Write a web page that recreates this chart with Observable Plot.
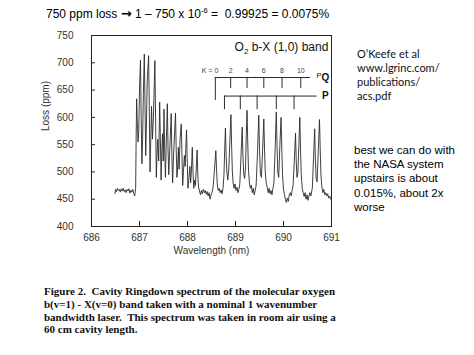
<!DOCTYPE html>
<html><head><meta charset="utf-8">
<script src="https://cdn.jsdelivr.net/npm/d3@7"></script>
<script src="https://cdn.jsdelivr.net/npm/@observablehq/plot@0.6"></script>
<style>
body{margin:0;background:#fff;}
#wrap{position:relative;width:474px;height:355px;overflow:hidden;background:#fff;font-family:"Liberation Sans",Arial,sans-serif;}
#chart{position:absolute;left:0;top:0;}
.title{position:absolute;left:46px;top:6px;font-size:12px;line-height:16px;color:#000;white-space:nowrap;}
.title sup{font-size:7.5px;vertical-align:5px;line-height:0;}
.title .arr{font-family:"DejaVu Sans",sans-serif;font-weight:bold;font-size:13px;line-height:0;}
.ref{position:absolute;left:357px;top:47px;font-family:Lato,"Open Sans",sans-serif;font-size:11px;line-height:14px;color:#111;white-space:nowrap;}
.note{position:absolute;left:354px;top:143px;font-size:11.5px;line-height:14.2px;color:#000;white-space:nowrap;}
.cap{position:absolute;left:44px;top:285px;font-family:"Liberation Serif","Times New Roman",serif;font-weight:bold;font-size:11px;line-height:12.8px;color:#111;white-space:nowrap;}
</style></head>
<body>
<div id="wrap">
<div id="chart"></div>
<div class="title">750 ppm loss <span class="arr">→</span> 1 – 750 x 10<sup>-6</sup> =&nbsp; 0.99925 = 0.0075%</div>
<div class="ref">O’Keefe et al<br>www.lgrinc.com/<br>publications/<br>acs.pdf</div>
<div class="note">best we can do with<br>the NASA system<br>upstairs is about<br>0.015%, about 2x<br>worse</div>
<div class="cap">Figure 2.&nbsp; Cavity Ringdown spectrum of the molecular oxygen<br>b(v=1) - X(v=0) band taken with a nominal 1 wavenumber<br>bandwidth laser.&nbsp; This spectrum was taken in room air using a<br>60 cm cavity length.</div>
</div>
<script>
// ---- data ----
const xTicks = [686, 687, 688, 689, 690, 691];
const yTicks = [400, 450, 500, 550, 600, 650, 700, 750];

const wavelength = [
686.49,686.50,686.52,686.54,686.56,686.58,686.60,686.62,686.64,686.66,686.68,686.70,686.72,686.74,686.76,686.78,686.80,686.82,686.84,686.86,686.88,686.90,
686.92,686.93,686.94,686.955,686.97,686.985,687.00,687.02,687.035,687.05,687.065,687.08,687.10,687.115,687.13,687.145,687.16,687.19,687.205,687.22,687.235,687.25,687.27,687.29,687.32,687.335,687.35,687.365,687.38,687.40,687.42,687.435,687.45,687.465,687.48,687.495,687.51,687.525,687.54,687.555,687.58,687.595,687.61,687.625,687.64,687.66,687.675,687.69,687.705,687.72,687.75,687.765,687.78,687.795,687.81,687.825,687.845,687.87,687.885,687.90,687.915,687.935,687.95,687.98,687.995,688.01,688.03,688.05,688.065,688.08,688.10,688.115,688.13,688.15,688.165,688.18,688.20,688.215,688.23,688.25,
688.27,688.29,688.31,688.33,688.35,688.37,688.39,688.41,688.43,688.45,688.47,688.49,688.51,688.53,688.55,688.575,688.59,688.605,688.62,688.64,688.66,688.68,688.70,688.72,688.74,688.76,688.775,688.79,688.805,688.82,688.84,688.86,688.885,688.905,688.92,688.935,688.95,688.97,688.99,689.01,689.03,689.05,689.07,689.09,689.115,689.14,689.155,689.17,689.19,689.21,689.225,689.24,689.255,689.27,689.29,689.31,689.33,689.35,689.37,689.39,689.41,689.43,689.46,689.485,689.50,689.52,689.54,689.565,689.59,689.605,689.62,689.64,689.66,689.68,689.70,689.72,689.74,689.76,689.78,689.80,689.825,689.85,689.865,689.88,689.90,689.925,689.95,689.965,689.98,690.00,690.02,690.04,690.06,690.08,690.10,690.12,690.14,690.16,690.18,690.20,690.225,690.25,690.265,690.28,690.30,690.32,690.34,690.355,690.37,690.39,690.41,690.43,690.45,690.47,690.49,690.51,690.53,690.55,690.57,690.60,690.625,690.65,690.665,690.68,690.70,690.725,690.75,690.765,690.78,690.80,690.82,690.84,690.86,690.88,690.90,690.92,690.94,690.96,690.98,691.00
];
const loss = [
460,468,464,470,466,468,463,469,465,470,464,467,462,468,465,469,461,466,463,468,460,456,
470,560,634,590,555,575,650,705,600,515,560,640,716,620,530,590,665,713,610,500,560,620,560,600,704,600,490,530,560,520,628,560,485,540,570,520,615,540,490,545,625,540,495,530,560,607,530,480,520,550,608,540,490,510,545,505,560,588,530,475,500,530,510,577,520,470,490,510,480,500,545,500,470,485,475,500,540,495,472,465,
458,466,460,468,462,466,459,464,456,462,450,458,462,470,490,520,539,505,478,466,470,462,467,460,470,495,540,580,530,500,485,505,560,605,545,500,480,470,478,466,472,462,468,478,530,582,530,498,488,510,570,613,555,505,480,470,476,462,470,458,466,475,540,604,540,495,490,540,597,540,500,480,472,462,470,460,466,458,470,480,540,610,550,500,490,550,600,540,495,468,458,450,444,452,446,458,462,456,466,475,520,571,520,490,498,550,600,540,495,470,462,455,462,450,458,448,456,462,456,470,525,579,520,488,482,540,596,540,495,472,462,468,458,462,456,460,452,456,450,453
];

// rotational ladder (band assignment)
const kLabels = ["0", "2", "4", "6", "8", "10"];
const pqWave = [688.58, 688.90, 689.24, 689.59, 689.97, 690.36];
const pWave = [688.77, 689.10, 689.45, 689.85, 690.22];
const pqEnd = 690.56, pEnd = 690.70;

const spectrum = wavelength.map((w, i) => ({w, v: loss[i]}));

// annotation levels in ppm units
const kTextY = 685, pqY = 673, pqTickBot = 653, k0Bot = 631, pY = 639, pTickBot = 614, bandY = 728;

const ink = "#2a2a2a";
const plot = Plot.plot({
  width: 474, height: 270,
  marginLeft: 91, marginRight: 143, marginTop: 35, marginBottom: 44,
  style: {fontFamily: "Liberation Sans, Arial, sans-serif", fontSize: "10px", color: "#333", background: "white", overflow: "visible"},
  x: {domain: [686, 691]},
  y: {domain: [400, 750]},
  marks: [
    Plot.frame({stroke: "#222", strokeWidth: 1}),
    Plot.axisY({ticks: yTicks, tickSize: -4, tickPadding: 22, tickFormat: d => String(d), label: null, stroke: "#222"}),
    Plot.axisX({ticks: xTicks, tickSize: -5, tickPadding: 12, tickFormat: d => String(d), label: null, stroke: "#222"}),
    Plot.line(spectrum, {x: "w", y: "v", stroke: ink, strokeWidth: 0.9}),
    Plot.ruleY([pqY], {x1: pqWave[0], x2: pqEnd, stroke: ink}),
    Plot.ruleX(pqWave, {x: d => d, y1: pqY, y2: (d, i) => i === 0 ? k0Bot : pqTickBot, stroke: ink}),
    Plot.ruleY([pY], {x1: pWave[0], x2: pEnd, stroke: ink}),
    Plot.ruleX(pWave, {x: d => d, y1: pY, y2: pTickBot, stroke: ink}),
    Plot.text(pqWave.slice(1), {x: d => d, y: kTextY, text: (d, i) => kLabels[i + 1], fontSize: 7, fill: "#444"}),
    Plot.text([pqWave[0]], {x: d => d, y: kTextY, text: () => "K = " + kLabels[0], textAnchor: "end", dx: 3, fontSize: 7, fill: "#444"}),
    Plot.text(["PQ"], {x: pqEnd, y: pqY, dx: 6, textAnchor: "start", fontSize: 10, fill: "#111"}),
    Plot.text(["P"], {x: pEnd, y: pY, dx: 5, textAnchor: "start", fontSize: 10, fontWeight: "bold", fill: "#111"}),
    Plot.text(["O2 b-X (1,0) band"], {x: 688.98, y: bandY, textAnchor: "start", fontSize: 12, fill: "#111"}),
    Plot.text(["Loss (ppm)"], {frameAnchor: "left", dx: -46, rotate: -90, fontSize: 10, fill: "#333"}),
    Plot.text(["Wavelength (nm)"], {frameAnchor: "bottom", dy: 27, fontSize: 10, fill: "#333"})
  ]
});
document.getElementById("chart").appendChild(plot);
d3.select(plot).selectAll("text").each(function() {
  const t = this.textContent;
  if (t === "O2 b-X (1,0) band") this.innerHTML = 'O<tspan dy="3" font-size="8">2</tspan><tspan dy="-3"> b-X (1,0) band</tspan>';
  if (t === "PQ") this.innerHTML = '<tspan font-size="7.5" dy="-3">P</tspan><tspan dy="3" font-weight="bold">Q</tspan>';
});
</script>
</body></html>
